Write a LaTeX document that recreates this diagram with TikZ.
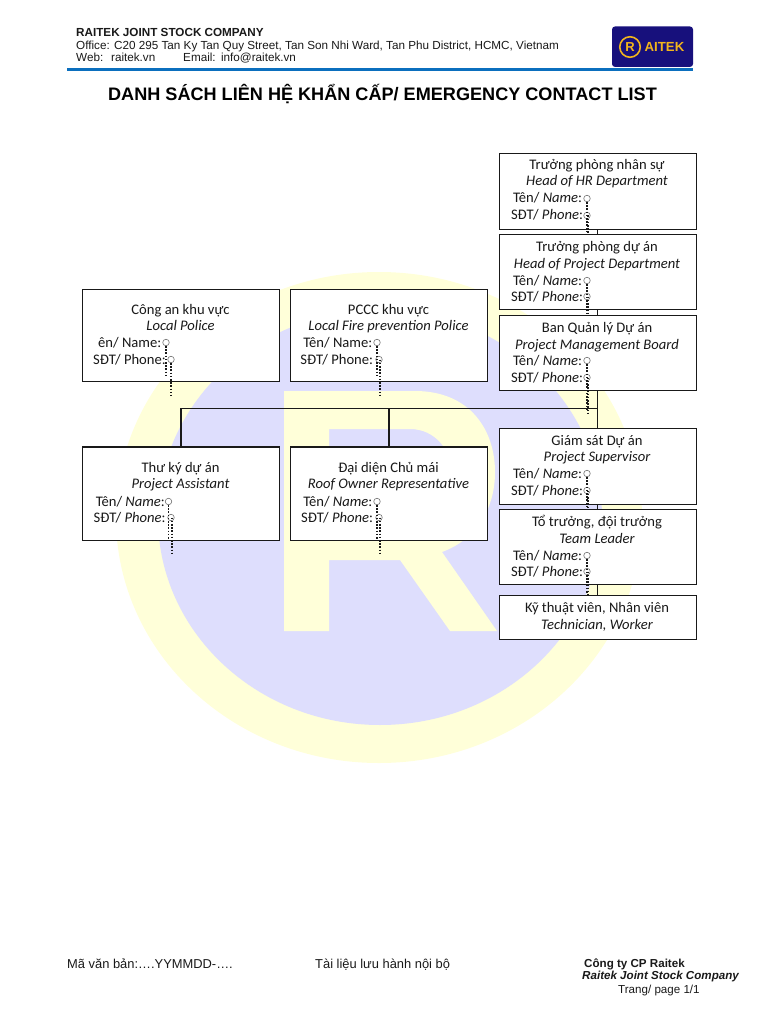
\documentclass[tikz,border=0pt]{standalone}
\usepackage{fontspec}
\setmainfont{Liberation Sans}
\newfontfamily\boxfont{Carlito}
\definecolor{wmyellow}{HTML}{FFFFD9}
\definecolor{wmlav}{HTML}{DEDEFD}
\definecolor{rulecol}{HTML}{0B6FBE}
\definecolor{logobg}{HTML}{17107C}
\definecolor{logogold}{HTML}{F2B51C}
\tikzset{
  cbox/.style={draw=black!90,line width=1.2pt,fill=white,inner sep=0pt},
  link/.style={draw=black!90,line width=1.2pt},
  ttl/.style={font=\boxfont\fontsize{14.6}{15}\selectfont,anchor=base,inner sep=0pt,text=black!90},
  sub/.style={font=\boxfont\itshape\fontsize{14.6}{15}\selectfont,anchor=base,inner sep=0pt,text=black!90},
  lbl/.style={font=\boxfont\fontsize{14.6}{15}\selectfont,anchor=base east,inner sep=0pt,text=black!90},
  circ/.style={circle,draw=black!55,line width=.6pt,minimum size=6.5pt,inner sep=0pt},
  dots/.style={line width=1.9pt,dash pattern=on 1.6pt off 1.6pt,black!90},
  hdr/.style={anchor=base west,inner sep=0pt,font=\fontsize{11.7}{13}\selectfont,text=black!90},
  foot/.style={anchor=base west,inner sep=0pt,text=black!90},
}
\newcommand{\cbx}[5]{\node[cbox,minimum width=#4pt-#2pt,minimum height=#5pt-#3pt,anchor=north west] (#1) at (#2,#3) {};}
% name, right x of text, name-circle x, phone-circle x, name y(base), phone y(base), end1, end2, italic?
\newcommand{\fields}[9]{%
  \node[lbl] (#1nl) at (#2,#5) {Tên/ #9{Name}:};
  \node[lbl] (#1pl) at (#2+.8,#6) {SĐT/ #9{Phone}:};
  \node[circ] (#1nc) at (#3,#5-4.5) {};
  \node[circ] (#1pc) at (#4,#6-4.5) {};
  \coordinate (#1ne) at (#3,#7);
  \coordinate (#1pe) at (#4+.8,#8);
  \coordinate (#1ps) at (#4+.8,#6-4.5);
  \draw[dots] (#1nc.south) -- (#1ne);
  \draw[dots] (#1ps) -- (#1pe);
}
\newcommand{\keep}[1]{#1}
\newcommand{\ital}[1]{\textit{#1}}
\begin{document}
\begin{tikzpicture}[x=1pt,y=-1pt]
\useasboundingbox (0,0) rectangle (768,1024);
% watermark
\fill[wmyellow] (379,517.5) ellipse [x radius=263pt,y radius=245.5pt];
\fill[wmlav] (380,517.5) ellipse [x radius=222pt,y radius=207.5pt];
\fill[wmyellow,even odd rule]
  (284,391) -- (415,391) .. controls (470,391) and (495,430) .. (495,472)
  .. controls (495,510) and (475,540) .. (442,552) -- (497,631) -- (450,631) -- (400,560)
  -- (329,560) -- (329,631) -- (284,631) -- cycle
  (329,429) -- (410,429) .. controls (435,429) and (452,450) .. (452,475)
  .. controls (452,505) and (435,522) .. (410,522) -- (329,522) -- cycle;
% header
\node[hdr,font=\bfseries\fontsize{11.7}{13}\selectfont] (co) at (76,36.5) {RAITEK JOINT STOCK COMPANY};
\node[hdr] (office) at (76,49.3) {Office: C20 295 Tan Ky Tan Quy Street, Tan Son Nhi Ward, Tan Phu District, HCMC, Vietnam};
\node[hdr] (web) at (76,61.5) {Web:\hspace{3.5pt} raitek.vn};
\node[hdr] (email) at (183,61.5) {Email:\hspace{1pt} info@raitek.vn};
\draw[rulecol,line width=2.6pt] (67,69.5) -- (693,69.5);
\node[fill=logobg,rounded corners=3pt,minimum width=81pt,minimum height=40.5pt,inner sep=0pt] (logo) at (652.5,46.7) {};
\node[circle,draw=logogold,line width=1.6pt,minimum size=20.5pt,inner sep=0pt,text=logogold,font=\bfseries\fontsize{13}{13}\selectfont] (logoR) at (630,47) {R};
\node[anchor=base west,inner sep=0pt,text=logogold,font=\bfseries\fontsize{13.2}{13}\selectfont] (logoT) at (644.5,52) {AITEK};
% title
\node[anchor=base,inner sep=0pt,font=\bfseries\fontsize{18.1}{19}\selectfont,text=black] (title) at (382.5,100.3) {DANH SÁCH LIÊN HỆ KHẨN CẤP/ EMERGENCY CONTACT LIST};
% boxes
\cbx{hr}{498.7}{153.2}{695.7}{228.7}
\cbx{pd}{498.7}{234.2}{695.7}{309}
\cbx{pm}{498.7}{315.2}{695.7}{390}
\cbx{gs}{498.7}{428.2}{695.7}{503.5}
\cbx{tl}{498.7}{509.2}{695.7}{584}
\cbx{tw}{498.7}{595.2}{695.7}{638.7}
\cbx{po}{81.9}{288.8}{278.9}{381}
\cbx{fi}{289.9}{288.8}{486.9}{381}
\cbx{pa}{81.9}{446.3}{278.9}{540}
\cbx{ro}{289.9}{446.3}{486.9}{540}
\coordinate (hub) at (pm.south |- 0,408.5);
\coordinate (hubr) at (ro.north |- 0,408.5);
\coordinate (hubl) at (pa.north |- 0,408.5);
\draw[link] (hr.south) -- (pd.north);
\draw[link] (pd.south) -- (pm.north);
\draw[link] (pm.south) -- (gs.north);
\draw[link] (gs.south) -- (tl.north);
\draw[link] (tl.south) -- (tw.north);
\draw[link] (hub) -- (hubl) -- (pa.north);
\draw[link] (hubr) -- (ro.north);
% right column texts
\node[ttl] (hrt) at (597,170) {Trưởng phòng nhân sự};
\node[sub] (hrs) at (597,186) {Head of HR Department};
\fields{hr}{582.3}{587}{587}{203}{220}{233}{234}{\ital}
\node[ttl] (pdt) at (597,251.5) {Trưởng phòng dự án};
\node[sub] (pds) at (597,268) {Head of Project Department};
\fields{pd}{582.3}{587}{587}{285}{301}{314}{314}{\ital}
\node[ttl] (pmt) at (597,332) {Ban Quản lý Dự án};
\node[sub] (pms) at (597,349) {Project Management Board};
\fields{pm}{582.3}{587}{587}{365}{382}{412}{413}{\ital}
\node[ttl] (gst) at (597,445) {Giám sát Dự án};
\node[sub] (gss) at (597,461) {Project Supervisor};
\fields{gs}{582.3}{587}{587}{478}{495}{508}{508}{\ital}
\node[ttl] (tlt) at (597,526.5) {Tổ trưởng, đội trưởng};
\node[sub] (tls) at (597,543) {Team Leader};
\fields{tl}{582.3}{587}{587}{560}{576}{594}{594}{\ital}
\node[ttl] (twt) at (597,612.5) {Kỹ thuật viên, Nhân viên};
\node[sub] (tws) at (597,629.5) {Technician, Worker};
% police, fire
\node[ttl] (pot) at (180.5,314) {Công an khu vực};
\node[sub] (pos) at (180.5,330) {Local Police};
\node[lbl] (ponl) at (161.5,347) {ên/ Name:};
\node[lbl] (popl) at (166,364) {SĐT/ Phone:};
\node[circ] (ponc) at (166,342.5) {};
\node[circ] (popc) at (171,359.5) {};
\coordinate (pone) at (166,378);
\coordinate (pope) at (171,396);
\draw[dots] (ponc.south) -- (pone);
\draw[dots] (popc.south) -- (pope);
\node[ttl] (fit) at (388.5,314) {PCCC khu vực};
\node[sub] (fis) at (388.5,330) {Local Fire prevention Police};
\fields{fi}{372.5}{377}{379}{347}{364}{378}{395}{\keep}
% assistant, roof
\node[ttl] (pat) at (180.5,472) {Thư ký dự án};
\node[sub] (pas) at (180.5,488.5) {Project Assistant};
\fields{pa}{165}{168.5}{171}{506}{522}{540}{553}{\ital}
\node[ttl] (rot) at (388.5,472) {Đại diện Chủ mái};
\node[sub] (ros) at (388.5,488.5) {Roof Owner Representative};
\fields{ro}{372.5}{377}{379}{506}{522}{540}{553}{\ital}
% footer
\node[foot,font=\fontsize{12.9}{14}\selectfont] (f1) at (67,968.5) {Mã văn bản:….YYMMDD-….};
\node[foot,font=\fontsize{12.9}{14}\selectfont] (f2) at (315,968.5) {Tài liệu lưu hành nội bộ};
\node[foot,font=\bfseries\fontsize{11.6}{12}\selectfont] (f3) at (584,967) {Công ty CP Raitek};
\node[foot,font=\bfseries\itshape\fontsize{11.6}{12}\selectfont] (f4) at (582,979) {Raitek Joint Stock Company};
\node[foot,font=\fontsize{11.6}{12}\selectfont] (f5) at (618,993) {Trang/ page 1/1};
\end{tikzpicture}
\end{document}
